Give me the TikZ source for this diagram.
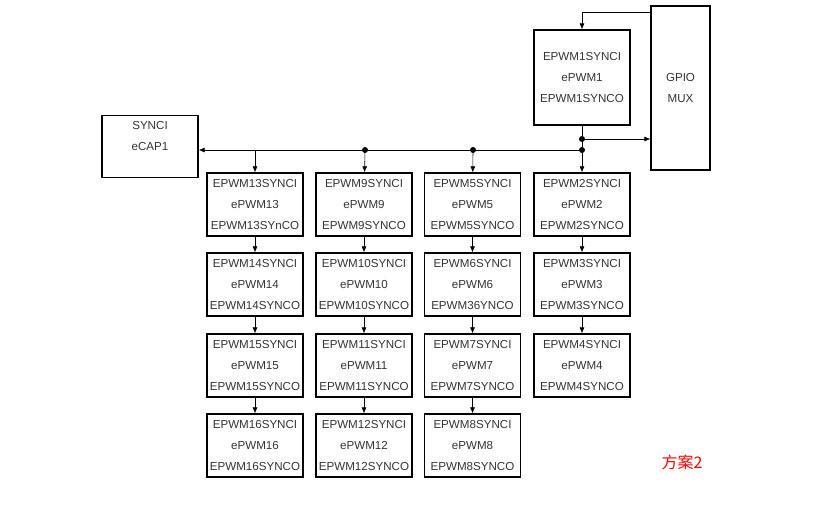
\documentclass[tikz,border=0pt]{standalone}
\usepackage{fontspec}
\setmainfont{Liberation Sans}
\newfontfamily\cjk{Noto Sans CJK SC}
\usetikzlibrary{arrows.meta}
\begin{document}
\begin{tikzpicture}[x=1pt,y=-1pt,
  box/.style={draw,line width=1.3pt,minimum width=96pt,minimum height=63pt,inner sep=0pt,
    align=center,font=\fontsize{11.6}{21}\selectfont,text=black!80},
  ar/.style={-{Latex[length=6pt,width=5pt]},line width=0.6pt},
  ln/.style={line width=0.6pt},
  dot/.style={circle,fill,inner sep=0pt,minimum size=6pt}]
\useasboundingbox (0,0) rectangle (815,521);
\node[box] (p1) at (582,77.5) [minimum height=95pt] {EPWM1SYNCI\\ePWM1\\EPWM1SYNCO};
\node[box,minimum width=59pt,minimum height=164pt] (gpio) at (680.5,88) {GPIO\\MUX};
\node[box,minimum height=62pt,anchor=north] (cap) at (150,115) {SYNCI\\eCAP1\\\phantom{X}};
\foreach \c/\x in {1/255,2/364,3/472.5,4/582}
  \foreach \r/\y in {1/204.5,2/284.5,3/365.5,4/445.5}
    \coordinate (c\c\r) at (\x,\y);
\node[box] (e13) at (c11) {EPWM13SYNCI\\ePWM13\\EPWM13SYnCO};
\node[box] (e14) at (c12) {EPWM14SYNCI\\ePWM14\\EPWM14SYNCO};
\node[box] (e15) at (c13) {EPWM15SYNCI\\ePWM15\\EPWM15SYNCO};
\node[box] (e16) at (c14) {EPWM16SYNCI\\ePWM16\\EPWM16SYNCO};
\node[box] (e9) at (c21) {EPWM9SYNCI\\ePWM9\\EPWM9SYNCO};
\node[box] (e10) at (c22) {EPWM10SYNCI\\ePWM10\\EPWM10SYNCO};
\node[box] (e11) at (c23) {EPWM11SYNCI\\ePWM11\\EPWM11SYNCO};
\node[box] (e12) at (c24) {EPWM12SYNCI\\ePWM12\\EPWM12SYNCO};
\node[box] (e5) at (c31) {EPWM5SYNCI\\ePWM5\\EPWM5SYNCO};
\node[box] (e6) at (c32) {EPWM6SYNCI\\ePWM6\\EPWM36YNCO};
\node[box] (e7) at (c33) {EPWM7SYNCI\\ePWM7\\EPWM7SYNCO};
\node[box] (e8) at (c34) {EPWM8SYNCI\\ePWM8\\EPWM8SYNCO};
\node[box] (e2) at (c41) {EPWM2SYNCI\\ePWM2\\EPWM2SYNCO};
\node[box] (e3) at (c42) {EPWM3SYNCI\\ePWM3\\EPWM3SYNCO};
\node[box] (e4) at (c43) {EPWM4SYNCI\\ePWM4\\EPWM4SYNCO};
\foreach \a/\b in {e13/e14,e14/e15,e15/e16,e9/e10,e10/e11,e11/e12,e5/e6,e6/e7,e7/e8,e2/e3,e3/e4}
  \draw[ar] (\a) -- (\b);
\node[dot] (d1) at (582,139) {};
\node[dot] (d2) at (582,150) {};
\node[dot] (d3) at (473,150) {};
\node[dot] (d4) at (365,150) {};
\coordinate (b1) at (255,150);
\draw[ln] (p1.south) -- (d1) -- (d2);
\draw[ar] (d1) -- (d1 -| gpio.west);
\draw[ar] (d2) -- (d2 -| cap.east);
\draw[ar] (d2) -- (e2);
\draw[ar] (d3) -- (e5);
\draw[ar] (d4) -- (e9);
\draw[ar] (b1) -- (e13);
\coordinate (fb) at (582,12);
\draw[ar] (fb -| gpio.west) -- (fb) -- (p1.north);
\node[text=red,font=\cjk\fontsize{16}{16}\selectfont] (lbl) at (682,462) {方案2};
\end{tikzpicture}
\end{document}
